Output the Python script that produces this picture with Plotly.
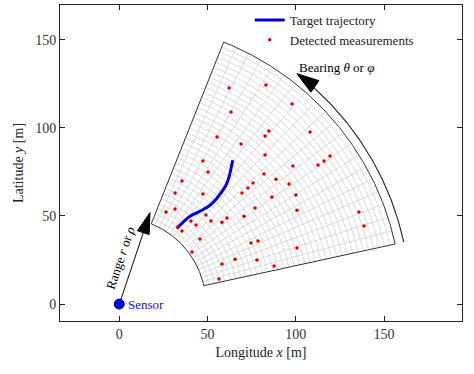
import numpy as np
import plotly.graph_objects as go

# ---------------- data ----------------
traj_x = [32.5, 36.3, 40.1, 43.9, 47.6, 51.4, 55.2, 58.0, 60.5, 62.2, 63.3, 64.3]
traj_y = [42.9, 46.7, 49.9, 51.8, 53.7, 56.1, 59.9, 63.7, 67.5, 72.2, 76.9, 81.6]

meas_x = [62.2, 83.1, 97.9, 63.3, 108.1, 84.8, 82.6, 55.4, 69.0, 82.6, 119.4, 116.0, 112.6,
          98.4, 47.4, 50.3, 82.0, 88.8, 96.2, 35.5, 31.6, 47.4, 69.5, 72.9, 75.8, 100.1,
          76.9, 100.7, 135.8, 138.7, 26.5, 31.6, 49.1, 52.0, 58.2, 61.0, 70.7, 40.6, 43.5,
          33.3, 35.5, 45.7, 74.6, 78.6, 41.2, 100.7, 78.0, 65.6, 58.2, 87.7, 56.5, 86.5]
meas_y = [122.6, 124.3, 113.5, 109.0, 97.6, 98.2, 95.3, 94.8, 90.8, 84.6, 84.0, 81.2, 78.9,
          78.3, 81.2, 74.9, 73.8, 70.9, 68.1, 69.8, 63.0, 62.4, 63.0, 65.8, 68.7, 61.9,
          54.5, 53.3, 52.2, 44.3, 52.2, 53.9, 50.5, 47.1, 46.5, 48.8, 49.9, 47.1, 44.8,
          43.7, 41.4, 36.9, 34.6, 35.8, 29.5, 31.8, 25.0, 25.5, 22.7, 21.6, 14.2, 60.7]

sensor_x = [0]
sensor_y = [0]

r_min, r_max = 49.0, 160.0
th_min, th_max = 12.3, 68.3
n_r, n_th = 36, 20
bearing_r = 165.0
bearing_tip_deg = 52.4
range_tip = (17.4, 51.9)

x_ticks = [0, 50, 100, 150]
y_ticks = [0, 50, 100, 150]

FONT = "Liberation Serif"

fig = go.Figure()

# ---------------- grid ----------------
gx, gy = [], []
r_edges = np.linspace(r_min, r_max, n_r + 1)
t_edges = np.radians(np.linspace(th_min, th_max, n_th + 1))
tt = np.linspace(t_edges[0], t_edges[-1], 200)
for r in r_edges[1:-1]:
    gx += list(r * np.cos(tt)) + [None]
    gy += list(r * np.sin(tt)) + [None]
for t in t_edges[1:-1]:
    gx += [r_min * np.cos(t), r_max * np.cos(t), None]
    gy += [r_min * np.sin(t), r_max * np.sin(t), None]
fig.add_trace(go.Scatter(x=gx, y=gy, mode="lines", line=dict(color="#cccccc", width=0.7),
                         hoverinfo="skip", showlegend=False))

# sector boundary
bx = list(r_max * np.cos(tt)) + list(r_min * np.cos(tt[::-1])) + [r_max * np.cos(tt[0])]
by = list(r_max * np.sin(tt)) + list(r_min * np.sin(tt[::-1])) + [r_max * np.sin(tt[0])]
fig.add_trace(go.Scatter(x=bx, y=by, mode="lines", line=dict(color="#333333", width=1),
                         hoverinfo="skip", showlegend=False))

# ---------------- arrows ----------------
def head(tip, ang, L=11.0, W=6.5):
    tx, ty = tip
    ux, uy = np.cos(ang), np.sin(ang)
    bx0, by0 = tx - L * ux, ty - L * uy
    px, py = -uy, ux
    return ([tx, bx0 + W / 2 * px, bx0 - W / 2 * px, tx],
            [ty, by0 + W / 2 * py, by0 - W / 2 * py, ty])

# bearing arc
tip_t = np.radians(bearing_tip_deg)
arc_t = np.linspace(np.radians(th_min), tip_t - 10.0 / bearing_r, 100)
fig.add_trace(go.Scatter(x=bearing_r * np.cos(arc_t), y=bearing_r * np.sin(arc_t), mode="lines",
                         line=dict(color="#222222", width=1.1), hoverinfo="skip", showlegend=False))
tip = (bearing_r * np.cos(tip_t), bearing_r * np.sin(tip_t))
hx, hy = head(tip, tip_t + np.pi / 2 + 0.04, L=12.5, W=8.0)
fig.add_trace(go.Scatter(x=hx, y=hy, mode="lines", fill="toself", fillcolor="black",
                         line=dict(color="black", width=1), hoverinfo="skip", showlegend=False))

# range arrow
ang_r = np.arctan2(range_tip[1], range_tip[0])
fig.add_trace(go.Scatter(x=[0, range_tip[0] - 10 * np.cos(ang_r)], y=[0, range_tip[1] - 10 * np.sin(ang_r)],
                         mode="lines", line=dict(color="#222222", width=1.1),
                         hoverinfo="skip", showlegend=False))
hx, hy = head(range_tip, ang_r, L=12.0, W=7.0)
fig.add_trace(go.Scatter(x=hx, y=hy, mode="lines", fill="toself", fillcolor="black",
                         line=dict(color="black", width=1), hoverinfo="skip", showlegend=False))

# ---------------- data traces ----------------
fig.add_trace(go.Scatter(x=traj_x, y=traj_y, mode="lines", name="Target trajectory",
                         line=dict(color="#0000dd", width=3, shape="spline")))
fig.add_trace(go.Scatter(x=meas_x, y=meas_y, mode="markers", name="Detected measurements",
                         marker=dict(color="#e00000", size=3.5)))
fig.add_trace(go.Scatter(x=sensor_x, y=sensor_y, mode="markers", showlegend=False,
                         marker=dict(color="#0000ee", size=10, line=dict(color="#000066", width=1))))

# ---------------- annotations ----------------
fig.add_annotation(x=4.0, y=0, text="Sensor", showarrow=False, xanchor="left", yanchor="middle",
                   font=dict(family=FONT, size=13, color="#1010dd"))
fig.add_annotation(x=0.8, y=26.2, text="Range <i>r</i> or <i>ρ</i>", showarrow=False,
                   textangle=-np.degrees(ang_r), font=dict(family=FONT, size=13, color="black"))
fig.add_annotation(x=100.5, y=134.5, text="Bearing <i>θ</i> or <i>φ</i>", showarrow=False,
                   xanchor="left", yanchor="middle", font=dict(family=FONT, size=13, color="black"))

axis_common = dict(showgrid=False, zeroline=False, showline=True, linecolor="#222222", linewidth=1,
                   mirror="ticks", ticks="inside", ticklen=5, tickcolor="#222222", automargin=False,
                   tickfont=dict(family=FONT, size=14, color="#333333"))
fig.update_xaxes(range=[-33.6, 194.2], tickvals=x_ticks,
                 title=dict(text="Longitude <i>x</i> [m]", font=dict(family=FONT, size=14, color="#222222"),
                            standoff=6), **axis_common)
fig.update_yaxes(range=[-9.6, 169.7], tickvals=y_ticks,
                 title=dict(text="Latitude <i>y</i> [m]", font=dict(family=FONT, size=14, color="#222222"),
                            standoff=8), **axis_common)

fig.update_layout(width=474, height=374, autosize=False,
                  font=dict(family=FONT, size=13, color="#222222"),
                  margin=dict(l=60, r=12, t=5, b=53),
                  plot_bgcolor="white", paper_bgcolor="white",
                  legend=dict(x=0.472, y=1.0, xanchor="left", yanchor="top", bgcolor="rgba(0,0,0,0)",
                              font=dict(family=FONT, size=13, color="#222222"), tracegroupgap=0,
                              itemwidth=30))

fig.write_html("out.html", config={"displayModeBar": False},
               post_script="document.body.style.margin='0';")
